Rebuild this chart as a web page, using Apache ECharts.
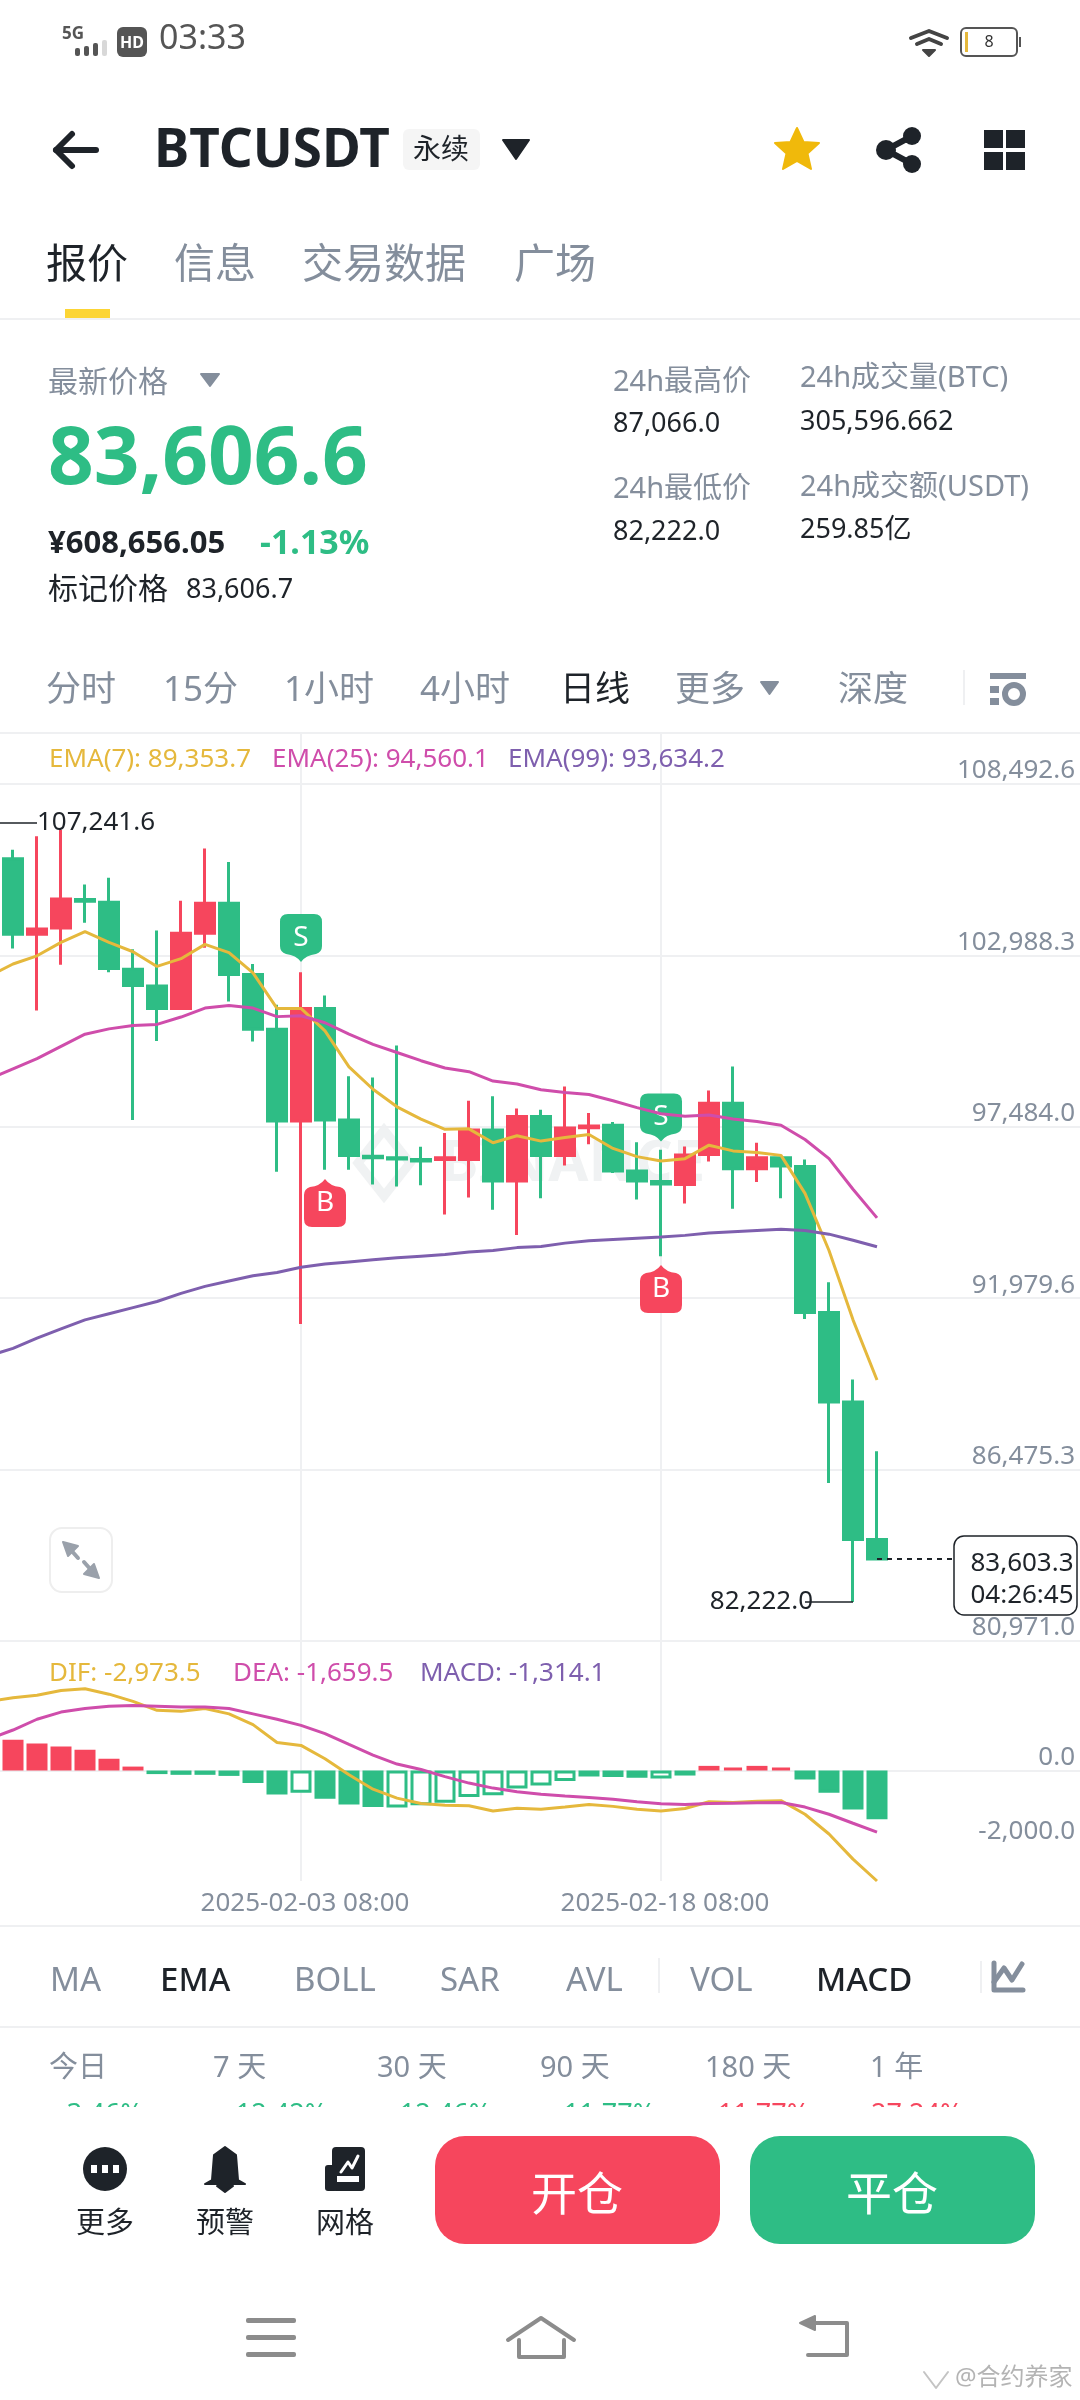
<!DOCTYPE html>
<html>
<head>
<meta charset="utf-8">
<title>BTCUSDT</title>
<script src="https://cdn.jsdelivr.net/npm/echarts@6/dist/echarts.min.js"></script>
<style>
  html, body { margin: 0; padding: 0; background: #ffffff; }
  #main { width: 1080px; height: 2400px; }
</style>
</head>
<body>
<div id="main"></div>
<script>
// daily candles, first entry sits just off the left edge of the screen
const categories = [
  '2025-01-21 08:00', '2025-01-22 08:00', '2025-01-23 08:00', '2025-01-24 08:00', '2025-01-25 08:00', '2025-01-26 08:00',
  '2025-01-27 08:00', '2025-01-28 08:00', '2025-01-29 08:00', '2025-01-30 08:00', '2025-01-31 08:00', '2025-02-01 08:00',
  '2025-02-02 08:00', '2025-02-03 08:00', '2025-02-04 08:00', '2025-02-05 08:00', '2025-02-06 08:00', '2025-02-07 08:00',
  '2025-02-08 08:00', '2025-02-09 08:00', '2025-02-10 08:00', '2025-02-11 08:00', '2025-02-12 08:00', '2025-02-13 08:00',
  '2025-02-14 08:00', '2025-02-15 08:00', '2025-02-16 08:00', '2025-02-17 08:00', '2025-02-18 08:00', '2025-02-19 08:00',
  '2025-02-20 08:00', '2025-02-21 08:00', '2025-02-22 08:00', '2025-02-23 08:00', '2025-02-24 08:00', '2025-02-25 08:00',
  '2025-02-26 08:00', '2025-02-27 08:00', '2025-02-28 08:00', '2025-03-01 08:00', '2025-03-02 08:00', '2025-03-03 08:00',
  '2025-03-04 08:00', '2025-03-05 08:00', '2025-03-06 08:00', '2025-03-07 08:00'
];
const shownDates = ['2025-02-03 08:00', '2025-02-18 08:00'];

const candleOpen = [102300, 106094, 103669.5, 103866, 104783.6, 104691.8, 102542.4, 102005, 101284.3, 103695.8, 104665.6, 102372, 100616, 97667, 101284, 97706, 96539.9, 96487.5, 96435, 96435, 96435, 97378.7, 95740, 97811, 96566, 97457, 97536, 96068, 95727, 95635, 96592.3, 98243.7, 96133.6, 96487.5, 96212.6, 91520, 88648, 84230];
const candleClose = [104000, 103669.5, 103839.9, 104796.7, 104731, 102568.6, 102018, 101284.3, 103695.8, 104665.6, 102372, 100616, 97667, 101284, 97706, 96566, 96487.5, 96448, 96382.6, 96487.5, 97378.7, 95740.4, 97811, 96566, 97444, 97509.7, 96068, 95740, 95648, 96579, 98243.7, 96133.6, 96487.5, 96225.6, 91520.3, 88648, 84230, 83603.3];
const candleLow = [100000, 103210.8, 101218.7, 102686.6, 104036.5, 102450.7, 97706, 100235.8, 101284.3, 103237, 101507, 100222.7, 96042, 91153, 96107, 96107, 95635, 95570, 95609, 94666, 95216, 94823, 94010, 95190, 96238, 96920, 96002.6, 95151, 93328, 95019, 96369, 94849, 95714, 95190, 91310.6, 86048, 82222, 83603.3];
const candleHigh = [107241.6, 106382.5, 106815, 107011.6, 105268.5, 105478, 103184.6, 103787.5, 104744.2, 106421.8, 105989.3, 102713, 101402, 102450.7, 101703.7, 99108.7, 99069.6, 100091.6, 96841.4, 97287, 98322.3, 98466.5, 98073.3, 98034, 98781, 97929, 97640.8, 96985, 96749.6, 96855, 98649.9, 99423, 96972.4, 96500.6, 96435, 92488, 89370, 87066];

const ema7 = [102319.6, 102712.8, 102974.9, 103407.4, 103748.2, 103407.4, 103106, 102634.2, 102883.2, 103341.9, 103079.8, 102424.5, 101284.2, 101284.2, 100563.4, 99410, 98689, 98125.7, 97732.5, 97404.9, 97418, 96972.4, 97195, 97024.8, 97142.8, 97234.5, 96788.9, 96526.8, 96382.6, 96461.2, 96893.7, 96710.2, 96657.8, 96566.1, 95347.2, 93512.4, 91284.4, 89353.7];
const ema25 = [99016.9, 99344.6, 99672.2, 100065.4, 100458.6, 100629, 100733.8, 100773.1, 101009, 101297.4, 101376, 101297.4, 101022.1, 101048.3, 100825.5, 100458.6, 100131, 99868.8, 99606.7, 99370.8, 99252.8, 98951.4, 98859.4, 98676, 98584.4, 98519, 98322.3, 98099.5, 97902.9, 97824.3, 97863.6, 97732.5, 97653.9, 97535.9, 97077.2, 96461.2, 95478.3, 94560.1];
const ema99 = [90131.1, 90367, 90694.6, 90996, 91284.4, 91481, 91677.6, 91874.2, 92136.3, 92359.1, 92529.4, 92699.8, 92804.6, 92975, 93079.9, 93145.4, 93211, 93276.5, 93328.9, 93381.3, 93459.9, 93512.4, 93604.1, 93643.5, 93748.3, 93826.9, 93866.3, 93905.6, 93944.9, 93997.3, 94075.9, 94115.3, 94154.6, 94193.9, 94154.6, 94036.6, 93840, 93634.2];

const macdValues = ['-', 830, 724, 647, 560, 318, 106, -96, -116, -116, -145, -338, -647, -598, -762, -917, -984, -994, -936, -868, -714, -666, -482, -405, -280, -164, -174, -193, -212, -135, 125, 77, 125, 77, -241, -598, -1052, -1314.1];
const hollowBars = [13, 17, 18, 19, 20, 21, 22, 23, 24, 25, 28, 29];
const dif = [1862, 1959, 2027, 2152, 2200, 2055, 1862, 1621, 1592, 1669, 1525, 1235, 753, 676, 318, -116, -502, -743, -888, -936, -946, -1090, -1013, -1042, -984, -917, -965, -1042, -1090, -1023, -840, -859, -830, -811, -1177, -1708, -2384, -2973.5];
const dea = [849, 1090, 1380, 1573, 1669, 1727, 1747, 1727, 1708, 1708, 1669, 1525, 1380, 1216, 994, 704, 415, 174, 29, -164, -338, -473, -569, -637, -685, -724, -772, -840, -897, -917, -888, -878, -869, -859, -984, -1177, -1419, -1659.5];

const priceTicks = ['80,971.0', '86,475.3', '91,979.6', '97,484.0', '102,988.3', '108,492.6'];
const priceMin = 80971;
const priceMax = 108492.6;
const macdMax = 3486;
const macdMin = -2973.5;
const macdTicks = [0, -2000];
const macdTickLabels = { '0': '0.0', '-2000': '-2,000.0' };

// buy and sell flags: candle index in categories, price at the middle of the flag
const sellFlags = [[13, 103547], [28, 97784]];
const buyFlags = [[14, 95038], [28, 92277]];

const highPrice = 107241.6;
const lowPrice = 82222;
const lastPrice = 83603.3;

const RED = '#f6465d';
const GREEN = '#2ebd85';
const DARK = '#1e2329';
const GRAY = '#848e9c';
const LINE = '#eff0f2';
const YEL = '#e5b83c';
const MAG = '#cf4dab';
const PUR = '#7e5fae';
const FONT = '"Noto Sans","Noto Sans CJK SC",sans-serif';
const BUBBLE_DOWN = 'path://M8 0H34Q42 0 42 8V32Q42 38 36 40Q26 41 21 48Q16 41 6 40Q0 38 0 32V8Q0 0 8 0Z';
const BUBBLE_UP = 'path://M8 48H34Q42 48 42 40V16Q42 10 36 8Q26 7 21 0Q16 7 6 8Q0 10 0 16V40Q0 48 8 48Z';

const candles = candleOpen.map(function (o, i) {
  return [o, candleClose[i], candleLow[i], candleHigh[i]];
});
const macdBars = macdValues.map(function (v, i) {
  const c = v > 0 ? RED : GREEN;
  return {
    value: v,
    itemStyle: { color: hollowBars.indexOf(i) >= 0 ? '#ffffff' : c, borderColor: c, borderWidth: 3 }
  };
});

// ---- phone screen around the chart ----
const ui = [];
function text(x, y, s, size, fill, align, weight) {
  ui.push({
    type: 'text', x: x, y: y + 3, z: 20,
    style: {
      text: s, fill: fill, fontSize: size, fontFamily: FONT, fontWeight: weight || 'normal',
      textAlign: align || 'left', textVerticalAlign: 'middle', align: align || 'left', verticalAlign: 'middle'
    }
  });
}
function rect(x, y, w, h, fill, r, stroke, lw) {
  ui.push({
    type: 'rect', z: 18, shape: { x: x, y: y, width: w, height: h, r: r || 0 },
    style: { fill: fill, stroke: stroke || null, lineWidth: lw || 0 }
  });
}
function poly(points, fill) {
  ui.push({
    type: 'polygon', z: 19, shape: { points: points },
    style: { fill: fill, stroke: fill, lineWidth: 2, lineJoin: 'round' }
  });
}
function stroke(points, color, lw) {
  ui.push({
    type: 'polyline', z: 19, shape: { points: points },
    style: { stroke: color, lineWidth: lw, fill: null, lineCap: 'round', lineJoin: 'round' }
  });
}
function circle(x, y, r, fill) {
  ui.push({ type: 'circle', z: 19, shape: { cx: x, cy: y, r: r }, style: { fill: fill } });
}

// status bar
text(62, 31, '5G', 17, '#555555', 'left', 'bold');
rect(75, 48, 5, 8, '#555555', 2);
rect(84, 46, 5, 10, '#555555', 2);
rect(93, 43, 5, 13, '#555555', 2);
rect(102, 40, 5, 16, '#d8d8d8', 2);
rect(117, 27, 30, 30, '#555555', 6);
text(132, 40, 'HD', 16, '#ffffff', 'center', 'bold');
text(159, 36, '03:33', 34, '#555555');
stroke([[911, 38], [929, 31], [947, 38]], '#444444', 4);
stroke([[917, 44], [929, 39], [941, 44]], '#444444', 4);
poly([[923, 50], [935, 50], [929, 56]], '#444444');
rect(961, 28, 56, 28, '#ffffff', 5, '#555555', 2);
rect(965, 32, 3, 20, YEL);
rect(1019, 37, 2, 10, '#555555');
text(989, 39, '8', 16, '#333333', 'center');

// title row
stroke([[96, 150], [56, 150]], DARK, 6);
stroke([[72, 134], [56, 150], [72, 166]], DARK, 6);
text(154, 149, 'BTCUSDT', 53, DARK, 'left', 'bold');
rect(403, 129, 77, 41, '#f5f5f5', 6);
text(441, 148, '永续', 28, DARK, 'center');
poly([[503, 140], [529, 140], [516, 159]], DARK);
poly([[797, 128], [803.5, 142], [819, 143], [807.5, 153.4], [811, 169], [797, 161], [783, 169], [786.5, 153.4], [775, 143], [790.5, 142]], '#f0b90b');
stroke([[912, 136], [886, 150], [912, 164]], DARK, 6);
circle(912, 136, 9, DARK);
circle(886, 150, 10, DARK);
circle(912, 164, 9, DARK);
rect(984, 130, 19, 18, DARK);
rect(1006, 130, 19, 18, DARK);
rect(984, 152, 19, 18, DARK);
rect(1006, 152, 19, 18, DARK);

// tabs
text(46, 263, '报价', 41, DARK);
text(174, 263, '信息', 41, GRAY);
text(302, 263, '交易数据', 41, GRAY);
text(514, 263, '广场', 41, GRAY);
rect(65, 309, 45, 9, '#fcd535');
rect(0, 318, 1080, 2, LINE);

// price block
text(48, 380, '最新价格', 30, GRAY);
poly([[201, 374], [219, 374], [210, 386]], GRAY);
text(48, 458, '83,606.6', 80, GREEN, 'left', 'bold');
text(48, 541, '¥608,656.05', 31, DARK, 'left', 'bold');
text(260, 541, '-1.13%', 34, GREEN, 'left', 'bold');
text(48, 587, '标记价格', 30, DARK);
text(186, 587, '83,606.7', 27, DARK);
text(613, 380, '24h最高价', 29, GRAY);
text(613, 421, '87,066.0', 27, DARK);
text(800, 376, '24h成交量(BTC)', 29, GRAY);
text(800, 419, '305,596.662', 27, DARK);
text(613, 487, '24h最低价', 29, GRAY);
text(613, 529, '82,222.0', 27, DARK);
text(800, 485, '24h成交额(USDT)', 29, GRAY);
text(800, 527, '259.85亿', 27, DARK);

// time frames
text(46, 688, '分时', 35, GRAY);
text(163, 688, '15分', 35, GRAY);
text(284, 688, '1小时', 35, GRAY);
text(420, 688, '4小时', 35, GRAY);
text(560, 688, '日线', 35, DARK);
text(675, 688, '更多', 35, GRAY);
poly([[761, 682], [778, 682], [769.5, 694]], GRAY);
text(838, 688, '深度', 35, GRAY);
rect(963, 670, 2, 35, LINE);
rect(990, 673, 36, 6, GRAY);
rect(990, 686, 9, 7, GRAY);
rect(990, 698, 9, 7, GRAY);
ui.push({ type: 'circle', z: 19, shape: { cx: 1014, cy: 694, r: 9 }, style: { fill: '#ffffff', stroke: GRAY, lineWidth: 6 } });
rect(0, 732, 1080, 2, LINE);

// chart legends and the stretch of the cursor lines above the first grid line
text(49, 757, 'EMA(7): 89,353.7', 26, YEL);
text(272, 757, 'EMA(25): 94,560.1', 26, MAG);
text(508, 757, 'EMA(99): 93,634.2', 26, PUR);
text(49, 1671, 'DIF: -2,973.5', 26, YEL);
text(233, 1671, 'DEA: -1,659.5', 26, MAG);
text(420, 1671, 'MACD: -1,314.1', 26, PUR);
rect(300, 733, 2, 51, LINE);
rect(660, 733, 2, 51, LINE);

// watermark behind the candles
ui.push({
  type: 'text', x: 440, y: 1164, z: 0,
  style: { text: 'BINANCE', fill: '#f0f2f3', fontSize: 58, fontWeight: 'bold', fontFamily: FONT, textVerticalAlign: 'middle', verticalAlign: 'middle' }
});
ui.push({ type: 'polygon', z: 0, shape: { points: [[384, 1130], [410, 1163], [384, 1196], [358, 1163]] }, style: { fill: null, stroke: '#f0f2f3', lineWidth: 9 } });

// expand button
rect(50, 1528, 62, 64, '#ffffff', 12, '#eeeeee', 2);
poly([[63, 1542], [78, 1546], [68, 1556]], '#9aa1ab');
stroke([[70, 1549], [78, 1558]], '#9aa1ab', 4);
poly([[99, 1578], [84, 1574], [94, 1564]], '#9aa1ab');
stroke([[92, 1571], [84, 1562]], '#9aa1ab', 4);

// last price box
rect(954, 1536, 123, 79, '#ffffff', 10, DARK, 1.5);
text(1022, 1561, '83,603.3', 26, DARK, 'center');
text(1022, 1593, '04:26:45', 26, DARK, 'center');

// indicator row
rect(0, 1925, 1080, 2, LINE);
text(50, 1979, 'MA', 33, GRAY);
text(160, 1979, 'EMA', 33, DARK, 'left', '500');
text(294, 1979, 'BOLL', 33, GRAY);
text(440, 1979, 'SAR', 33, GRAY);
text(566, 1979, 'AVL', 33, GRAY);
rect(658, 1958, 2, 35, LINE);
text(690, 1979, 'VOL', 33, GRAY);
text(816, 1979, 'MACD', 33, DARK, 'left', '500');
rect(980, 1961, 2, 32, LINE);
stroke([[994, 1963], [994, 1990], [1023, 1990]], GRAY, 5);
stroke([[994, 1982], [1004, 1968], [1012, 1980], [1022, 1964]], GRAY, 5);
rect(0, 2026, 1080, 2, LINE);

// period returns, only the top of the figures shows above the button bar
text(49, 2066, '今日', 29, GRAY);
text(213, 2066, '7 天', 29, GRAY);
text(377, 2066, '30 天', 29, GRAY);
text(540, 2066, '90 天', 29, GRAY);
text(705, 2066, '180 天', 29, GRAY);
text(870, 2066, '1 年', 29, GRAY);
text(58, 2112, '-3.46%', 27, GREEN);
text(227, 2112, '-12.42%', 27, GREEN);
text(391, 2112, '-12.46%', 27, GREEN);
text(555, 2112, '-11.77%', 27, GREEN);
text(709, 2112, '-11.77%', 27, RED);
text(871, 2112, '27.24%', 27, RED);
ui.push({ type: 'rect', z: 21, shape: { x: 0, y: 2107, width: 1080, height: 293 }, style: { fill: '#ffffff' } });

// bottom actions, drawn above the cover
const mark = ui.length;
circle(105, 2169, 22, DARK);
rect(91, 2165, 6, 8, '#ffffff');
rect(102, 2165, 6, 8, '#ffffff');
rect(113, 2165, 6, 8, '#ffffff');
poly([[225, 2147], [236, 2155], [238, 2180], [245, 2184], [205, 2184], [212, 2180], [214, 2155]], DARK);
poly([[217, 2186], [233, 2186], [225, 2192]], DARK);
rect(332, 2147, 33, 44, DARK, 4);
rect(325, 2165, 12, 26, DARK, 3);
stroke([[341, 2172], [348, 2162], [352, 2168], [358, 2156]], '#ffffff', 3);
rect(337, 2176, 22, 6, '#ffffff');
text(105, 2222, '更多', 29, DARK, 'center');
text(225, 2222, '预警', 29, DARK, 'center');
text(345, 2222, '网格', 29, DARK, 'center');
rect(435, 2136, 285, 108, RED, 30);
text(577, 2194, '开仓', 46, '#ffffff', 'center');
rect(750, 2136, 285, 108, GREEN, 30);
text(892, 2194, '平仓', 46, '#ffffff', 'center');

// navigation bar
rect(246, 2318, 50, 5, '#8c8c8c', 2);
rect(246, 2335, 50, 5, '#8c8c8c', 2);
rect(246, 2352, 50, 5, '#8c8c8c', 2);
stroke([[508, 2340], [541, 2318], [574, 2340]], '#8c8c8c', 4);
stroke([[519, 2340], [519, 2357], [564, 2357], [564, 2340]], '#8c8c8c', 4);
stroke([[815, 2323], [847, 2323], [847, 2355], [808, 2355]], '#8c8c8c', 4);
poly([[800, 2323], [815, 2316], [815, 2330]], '#8c8c8c');
text(955, 2375, '@合约养家', 24, '#b4b4b4', 'left');
stroke([[924, 2372], [936, 2388], [948, 2372]], '#c4c4c4', 2);
for (let i = mark; i < ui.length; i++) ui[i].z = 30;

// ---- chart ----
const chart = echarts.init(document.getElementById('main'), null, { width: 1080, height: 2400 });

function priceLine(data, extra) {
  return Object.assign({
    silent: true, symbol: 'none', animation: false,
    lineStyle: { color: DARK, width: 1.5, type: 'solid' },
    label: { show: true, color: DARK, fontSize: 26, fontFamily: FONT },
    data: data
  }, extra || {});
}
function emaLine(name, data, color, x, y) {
  return {
    name: name, type: 'line', data: data, xAxisIndex: x, yAxisIndex: y, z: 5,
    symbol: 'none', smooth: false, lineStyle: { color: color, width: 3 }
  };
}
function flags(name, data, color, symbol, letter) {
  return {
    name: name, type: 'scatter', z: 3, symbol: symbol, symbolSize: [42, 48],
    data: data.map(function (d) { return [categories[d[0]], d[1]]; }),
    itemStyle: { color: color, opacity: 1 },
    label: { show: true, position: 'inside', formatter: letter, color: '#ffffff', fontSize: 28, fontFamily: FONT }
  };
}
const onlyShown = function (i, v) { return shownDates.indexOf(v) >= 0; };

chart.setOption({
  animation: false,
  backgroundColor: '#ffffff',
  textStyle: { fontFamily: FONT },
  graphic: { elements: ui },
  grid: [
    { left: -23, top: 784, width: 1104, height: 857, outerBoundsMode: 'none' },
    { left: -23, top: 1641, width: 1104, height: 240, outerBoundsMode: 'none' }
  ],
  xAxis: [{
    type: 'category', gridIndex: 0, data: categories,
    axisLine: { show: false }, axisTick: { show: false }, axisLabel: { show: false },
    splitLine: { show: true, interval: onlyShown, alignWithLabel: true, lineStyle: { color: LINE, width: 2 } }
  }, {
    type: 'category', gridIndex: 1, data: categories,
    axisLine: { show: true, lineStyle: { color: LINE, width: 2 } }, axisTick: { show: false },
    axisLabel: { show: true, interval: onlyShown, color: GRAY, fontSize: 26, margin: 10, fontFamily: FONT, padding: [0, 0, 0, 8] },
    splitLine: { show: true, interval: onlyShown, alignWithLabel: true, lineStyle: { color: LINE, width: 2 } }
  }],
  yAxis: [{
    type: 'value', gridIndex: 0, position: 'right', min: priceMin, max: priceMax, interval: 5504.32,
    axisLine: { show: false }, axisTick: { show: false },
    axisLabel: {
      inside: true, verticalAlign: 'bottom', color: GRAY, fontSize: 26, margin: 6, fontFamily: FONT,
      formatter: function (v, i) { return priceTicks[i]; }
    },
    splitLine: { show: true, lineStyle: { color: LINE, width: 2 } }
  }, {
    type: 'value', gridIndex: 1, position: 'right', min: macdMin, max: macdMax,
    axisLine: { show: false }, axisTick: { show: false }, splitLine: { show: false },
    axisLabel: {
      inside: true, verticalAlign: 'bottom', color: GRAY, fontSize: 26, margin: 6, fontFamily: FONT,
      customValues: macdTicks,
      formatter: function (v) { return macdTickLabels[String(v)]; }
    }
  }],
  series: [{
    name: 'last', type: 'line', data: [], z: 1,
    markLine: priceLine([[
      { coord: [categories[37], lastPrice] },
      { coord: [categories[41], lastPrice] }
    ]], { lineStyle: { color: DARK, width: 2, type: [5, 5] }, label: { show: false } })
  }, {
    name: 'K', type: 'candlestick', data: candles, z: 2, barWidth: 19,
    itemStyle: { color: RED, color0: GREEN, borderColor: RED, borderColor0: GREEN, borderWidth: 3 },
    markLine: priceLine([
      [{ coord: [categories[0], highPrice] }, { coord: [categories[2], highPrice], label: { position: 'end', formatter: '107,241.6', distance: 0 } }],
      [{ coord: [categories[34], lowPrice], label: { position: 'start', formatter: '82,222.0', distance: -8 } }, { coord: [categories[36], lowPrice] }]
    ])
  },
  flags('sell', sellFlags, GREEN, BUBBLE_DOWN, 'S'),
  flags('buy', buyFlags, RED, BUBBLE_UP, 'B'),
  emaLine('EMA7', ema7, YEL, 0, 0),
  emaLine('EMA25', ema25, MAG, 0, 0),
  emaLine('EMA99', ema99, PUR, 0, 0),
  {
    name: 'MACD', type: 'bar', data: macdBars, xAxisIndex: 1, yAxisIndex: 1, barWidth: 21, z: 2
  },
  emaLine('DIF', dif, YEL, 1, 1),
  emaLine('DEA', dea, MAG, 1, 1)
  ]
});
</script>
</body>
</html>
